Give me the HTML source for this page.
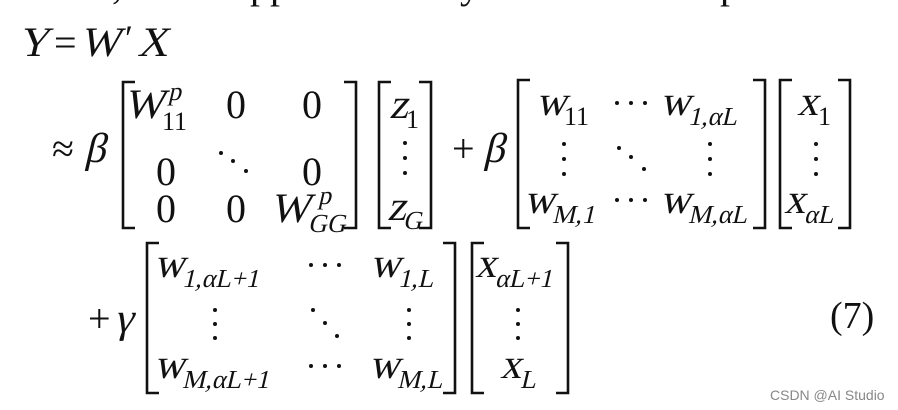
<!DOCTYPE html>
<html><head><meta charset="utf-8"><style>
html,body{margin:0;padding:0;background:#fff;width:898px;height:410px;overflow:hidden}
svg{display:block}
text{font-family:"Liberation Serif",serif;fill:#111}
.v{font-size:42px;transform-box:fill-box;transform-origin:50% 80%;transform:skewX(-13deg)}
.n{font-size:40px}
.s{font-size:26px;transform-box:fill-box;transform-origin:50% 80%;transform:skewX(-13deg)}
.sn{font-size:26px}
path{fill:none;stroke:#111;stroke-width:2.6}
circle{fill:#111}
</style></head><body>
<svg width="898" height="410" viewBox="0 0 898 410" xmlns="http://www.w3.org/2000/svg">
<text class="n" x="112" y="-2">,</text>
<text class="n" x="250" y="-2">pp</text>
<text class="n" x="460" y="-2">y</text>
<text class="n" x="720" y="-2">p</text>

<text class="v" x="18" y="56">Y</text>
<text class="n" x="54" y="56">=</text>
<text class="v" x="80" y="56">W</text>
<text class="n" x="125" y="50" style="font-size:36px">′</text>
<text class="v" x="137" y="56">X</text>

<text class="n" x="52" y="162">≈</text>
<text class="v" x="84" y="162">β</text>
<path d="M135,82 H123 V228 H135"/>
<path d="M344,82 H356 V228 H344"/>
<text class="v" x="124" y="118">W</text>
<text class="s" x="168" y="100">p</text>
<text class="sn" x="162" y="130">11</text>
<text class="n" x="226" y="118">0</text>
<text class="n" x="302" y="118">0</text>
<text class="n" x="156" y="185">0</text>
<circle cx="221" cy="153" r="2"/><circle cx="233" cy="161" r="2"/><circle cx="246" cy="171" r="2"/>
<text class="n" x="302" y="185">0</text>
<text class="n" x="156" y="222">0</text>
<text class="n" x="226" y="222">0</text>
<text class="v" x="270" y="222">W</text>
<text class="s" x="318" y="204">p</text>
<text class="s" x="308" y="232">GG</text>

<path d="M391,82 H379 V228 H391"/>
<path d="M419,82 H431 V228 H419"/>
<text class="v" x="389" y="118">z</text>
<text class="sn" x="406" y="128">1</text>
<circle cx="405" cy="143" r="2"/><circle cx="405" cy="158" r="2"/><circle cx="405" cy="173" r="2"/>
<text class="v" x="387" y="220">z</text>
<text class="s" x="403" y="229">G</text>

<text class="n" x="452" y="162">+</text>
<text class="v" x="483" y="162">β</text>
<path d="M530,80 H518 V228 H530"/>
<path d="M753,80 H765 V228 H753"/>
<text class="v" x="536" y="115">w</text>
<text class="sn" x="564" y="125">11</text>
<circle cx="617" cy="103" r="2"/><circle cx="631" cy="103" r="2"/><circle cx="645" cy="103" r="2"/>
<text class="v" x="660" y="115">w</text>
<text class="s" x="688" y="125">1,αL</text>
<circle cx="564" cy="144" r="2"/><circle cx="564" cy="159" r="2"/><circle cx="564" cy="174" r="2"/>
<circle cx="619" cy="148" r="2"/><circle cx="631" cy="157" r="2"/><circle cx="644" cy="169" r="2"/>
<circle cx="710" cy="144" r="2"/><circle cx="710" cy="159" r="2"/><circle cx="710" cy="174" r="2"/>
<text class="v" x="524" y="213">w</text>
<text class="s" x="552" y="223">M,1</text>
<circle cx="617" cy="200" r="2"/><circle cx="631" cy="200" r="2"/><circle cx="645" cy="200" r="2"/>
<text class="v" x="660" y="213">w</text>
<text class="s" x="688" y="223">M,αL</text>

<path d="M792,80 H780 V228 H792"/>
<path d="M838,80 H850 V228 H838"/>
<text class="v" x="797" y="115">x</text>
<text class="sn" x="818" y="125">1</text>
<circle cx="816" cy="144" r="2"/><circle cx="816" cy="159" r="2"/><circle cx="816" cy="174" r="2"/>
<text class="v" x="784" y="213">x</text>
<text class="s" x="804" y="223">αL</text>

<text class="n" x="88" y="332">+</text>
<text class="v" x="114" y="332">γ</text>
<path d="M159,243 H147 V393 H159"/>
<path d="M443,243 H455 V393 H443"/>
<text class="v" x="154" y="277">w</text>
<text class="s" x="182" y="287">1,αL+1</text>
<circle cx="311" cy="265" r="2"/><circle cx="325" cy="265" r="2"/><circle cx="339" cy="265" r="2"/>
<text class="v" x="370" y="277">w</text>
<text class="s" x="398" y="287">1,L</text>
<circle cx="215" cy="310" r="2"/><circle cx="215" cy="324" r="2"/><circle cx="215" cy="338" r="2"/>
<circle cx="313" cy="310" r="2"/><circle cx="325" cy="323" r="2"/><circle cx="337" cy="336" r="2"/>
<circle cx="409" cy="310" r="2"/><circle cx="409" cy="324" r="2"/><circle cx="409" cy="338" r="2"/>
<text class="v" x="154" y="378">w</text>
<text class="s" x="182" y="388">M,αL+1</text>
<circle cx="311" cy="366" r="2"/><circle cx="325" cy="366" r="2"/><circle cx="339" cy="366" r="2"/>
<text class="v" x="369" y="378">w</text>
<text class="s" x="397" y="388">M,L</text>

<path d="M484,243 H472 V393 H484"/>
<path d="M556,243 H568 V393 H556"/>
<text class="v" x="475" y="277">x</text>
<text class="s" x="495" y="287">αL+1</text>
<circle cx="518" cy="310" r="2"/><circle cx="518" cy="324" r="2"/><circle cx="518" cy="338" r="2"/>
<text class="v" x="500" y="378">x</text>
<text class="s" x="520" y="388">L</text>

<text class="n" x="830" y="328" style="font-size:38px">(7)</text>
<text x="770" y="400" style="font-family:'Liberation Sans',sans-serif;font-size:14px;fill:#888">CSDN @AI Studio</text>
</svg>
</body></html>
